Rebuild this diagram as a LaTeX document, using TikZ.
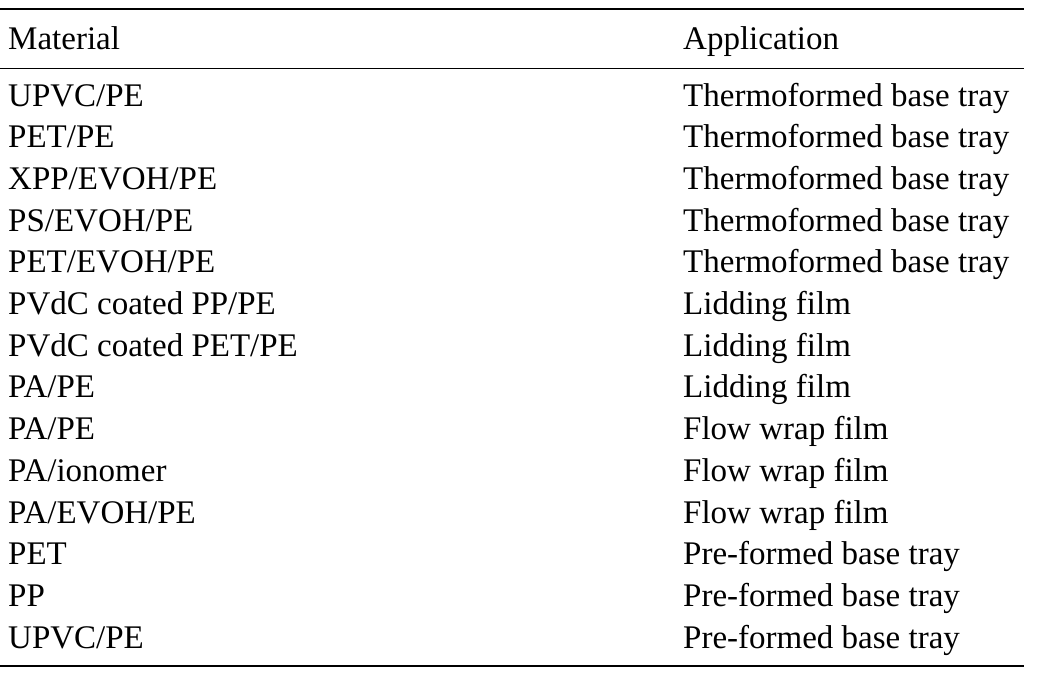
\documentclass[tikz,border=0pt]{standalone}
\usepackage{fontspec}
\setmainfont{Liberation Serif}
\begin{document}
\begin{tikzpicture}[x=1pt,y=-1pt,
  cell/.style={anchor=base west,inner sep=0pt,font=\fontsize{33}{35}\selectfont}]
\useasboundingbox (0,0) rectangle (1038,677);
\draw[line width=2.5pt] (0,9) -- (1024,9);
\draw[line width=1pt] (0,68) -- (1024,68);
\draw[line width=2.5pt] (0,666) -- (1024,666);
\node[cell] (h1) at (8,50) {Material};
\node[cell] (h2) at (683,50) {Application};
\foreach \i/\m/\a in {0/UPVC\slash PE/Thermoformed base tray,
 1/PET\slash PE/Thermoformed base tray,
 2/XPP\slash EVOH\slash PE/Thermoformed base tray,
 3/PS\slash EVOH\slash PE/Thermoformed base tray,
 4/PET\slash EVOH\slash PE/Thermoformed base tray,
 5/PVdC coated PP\slash PE/Lidding film,
 6/PVdC coated PET\slash PE/Lidding film,
 7/PA\slash PE/Lidding film,
 8/PA\slash PE/Flow wrap film,
 9/PA\slash ionomer/Flow wrap film,
 10/PA\slash EVOH\slash PE/Flow wrap film,
 11/PET/Pre-formed base tray,
 12/PP/Pre-formed base tray,
 13/UPVC\slash PE/Pre-formed base tray}{
  \node[cell] (m\i) at (8,106+41.7*\i) {\m};
  \node[cell] (a\i) at (683,106+41.7*\i) {\a};
}
\end{tikzpicture}
\end{document}
